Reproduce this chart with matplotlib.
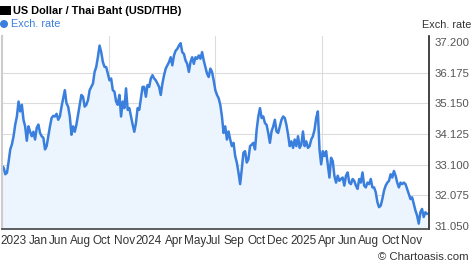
import numpy as np
import matplotlib
matplotlib.use("Agg")
import matplotlib.pyplot as plt
from matplotlib.patches import Rectangle, Ellipse

plt.rcParams['font.family'] = ['Liberation Sans', 'DejaVu Sans']

# USD/THB exchange rate (roughly evenly spaced, Dec 2022 - Dec 2025)
rate_2023 = [33.06, 33.0, 32.78, 32.83, 33.2, 33.61, 33.78, 34.05, 34.44, 34.71, 35.21, 34.88,
             35.1, 34.6, 34.38, 33.9, 34.38, 34.2, 34.05, 34.2, 33.94, 34.33, 34.44, 34.16,
             34.05, 34.0, 33.61, 33.72, 34.05, 34.38, 34.66, 34.73, 34.71, 34.8, 34.6, 34.71,
             35.04, 35.32, 35.59, 35.15, 35.04, 34.71, 34.1, 34.38, 34.2, 34.44, 34.77, 35.1,
             35.43, 35.37, 35.04, 35.1, 35.26, 35.59, 35.7, 35.81, 36.2, 36.37, 36.7, 37.08,
             36.86, 36.53, 36.37]
rate_2024a = [36.36, 36.14, 35.92, 35.98, 35.59, 35.54, 35.21, 35.1, 35.43, 34.71, 35.21, 34.99,
              35.65, 34.93, 34.99, 34.71, 34.44, 34.2, 34.49, 34.99, 34.93, 35.32, 35.7, 35.7,
              35.37, 35.76, 35.7, 35.98, 36.09, 35.98, 35.92, 35.81, 35.7, 35.43, 35.81, 36.09,
              36.31, 36.42, 36.53, 36.69, 36.42, 36.75, 36.91, 36.97, 37.08, 37.16, 36.86, 36.8,
              36.58, 36.47, 36.2, 36.53, 36.69, 36.47, 36.69, 36.64, 36.75, 36.64, 36.86, 36.58,
              36.36, 36.14]
rate_2024b = [36.03, 36.31, 36.2, 35.92, 35.59, 35.43, 35.32, 35.1, 34.71, 34.16, 34.38, 33.94,
              34.21, 33.94, 33.72, 33.83, 33.39, 33.17, 32.84, 32.45, 32.95, 33.5, 33.55, 33.17,
              33.28, 33.72, 33.77, 33.83, 33.61, 34.27, 34.71, 34.99, 34.66, 34.71, 34.49, 34.43,
              34.16, 33.83, 34.21, 34.38, 34.6, 34.21, 34.16, 34.38, 34.6, 34.71, 34.66, 34.43,
              34.1, 33.72, 33.88, 33.66, 33.94, 33.72, 34.05, 33.66, 33.77, 34.21, 33.72, 33.88,
              33.66, 33.72, 33.94, 34.05, 34.27, 34.66, 34.88]
rate_2025 = [33.61, 33.11, 33.55, 33.39, 33.55, 33.11, 32.67, 33.33, 33.22, 32.73, 32.5, 32.73,
             32.56, 32.62, 32.67, 32.4, 32.73, 32.84, 32.5, 32.45, 32.62, 32.56, 32.4, 32.29,
             32.62, 32.5, 32.84, 32.4, 32.34, 32.5, 32.45, 32.62, 32.34, 32.34, 32.18, 31.85,
             31.68, 31.73, 31.95, 32.23, 32.4, 32.5, 32.56, 32.78, 32.67, 32.89, 32.73, 32.5,
             32.34, 32.5, 32.45, 32.5, 32.45, 32.29, 32.12, 31.95, 32.01, 31.79, 31.57, 31.40,
             31.13, 31.51, 31.62, 31.35, 31.51, 31.46]

x_labels = ['2023', 'Jan', 'Jun', 'Aug', 'Oct', 'Nov', '2024', 'Apr', 'May', 'Jul', 'Sep',
            'Oct', 'Dec', '2025', 'Apr', 'Jun', 'Aug', 'Oct', 'Nov']
# label positions as fraction of the time axis
x_label_pos = [0.026, 0.084, 0.131, 0.183, 0.234, 0.286, 0.344, 0.403, 0.452, 0.494, 0.543,
               0.597, 0.644, 0.707, 0.761, 0.808, 0.859, 0.911, 0.958]
y_ticks = [37.2, 36.175, 35.15, 34.125, 33.1, 32.075, 31.05]

rate = np.array(rate_2023 + rate_2024a + rate_2024b + rate_2025)
x = np.arange(len(rate))
xmax = (len(rate) - 1) * 427 / 425

line_color = '#3a7fdd'
fill_color = '#ecf5fd'

fig = plt.figure(figsize=(4.74, 2.69), dpi=100)
ax = fig.add_axes([2 / 474, 1 - 229 / 269, 427 / 474, 193 / 269])

# gridlines first, fill drawn over them
for v in y_ticks[1:-1]:
    ax.axhline(v, color='#dcdcdc', lw=0.8, zorder=0)
for f in [0.25, 0.5, 0.75]:
    ax.axvline(f * xmax, color='#dcdcdc', lw=0.8, zorder=0)

ax.fill_between(x, rate, 30.0, color=fill_color, lw=0, zorder=1)
ax.plot(x, rate, color=line_color, lw=1.8, zorder=2)

ax.set_xlim(0, xmax)
ax.set_ylim(30.95, 37.40)

ax.yaxis.tick_right()
ax.set_yticks(y_ticks)
ax.set_yticklabels(['%.3f' % v for v in y_ticks])
ax.set_xticks([f * xmax for f in x_label_pos])
ax.set_xticklabels(x_labels)
ax.tick_params(axis='y', length=0, pad=4, labelsize=8.2, labelcolor='#555555')
ax.tick_params(axis='x', length=0, pad=4, labelsize=8.5, labelcolor='#333333')

ax.spines['top'].set_visible(False)
ax.spines['left'].set_color('#cccccc')
ax.spines['left'].set_linewidth(1.5)
ax.spines['right'].set_color('#222222')
ax.spines['right'].set_linewidth(1.2)
ax.spines['bottom'].set_color('#444444')
ax.spines['bottom'].set_linewidth(1.2)

# title with black square, legend entry with blue dot
W, H = 474, 269
fig.patches.append(Rectangle((0, 1 - 15 / H), 11 / W, 9 / H, transform=fig.transFigure,
                             color='black', lw=0))
fig.text(13 / W, 1 - 11 / H, 'US Dollar / Thai Baht (USD/THB)', fontsize=7.9,
         fontweight='bold', color='black', va='center', ha='left')
fig.patches.append(Ellipse((4 / W, 1 - 24 / H), 8 / W, 8 / H, transform=fig.transFigure,
                           color=line_color, lw=0))
fig.text(11 / W, 1 - 24 / H, 'Exch. rate', fontsize=7.8, color=line_color,
         va='center', ha='left')

fig.text(471 / W, 1 - 25 / H, 'Exch. rate', fontsize=7.8, color='#333333',
         va='center', ha='right')
fig.text(469 / W, 1 - 257 / H, '\u00a9 Chartoasis.com', fontsize=8.2, color='#333333',
         va='center', ha='right')

fig.savefig('out.png', dpi=100)
